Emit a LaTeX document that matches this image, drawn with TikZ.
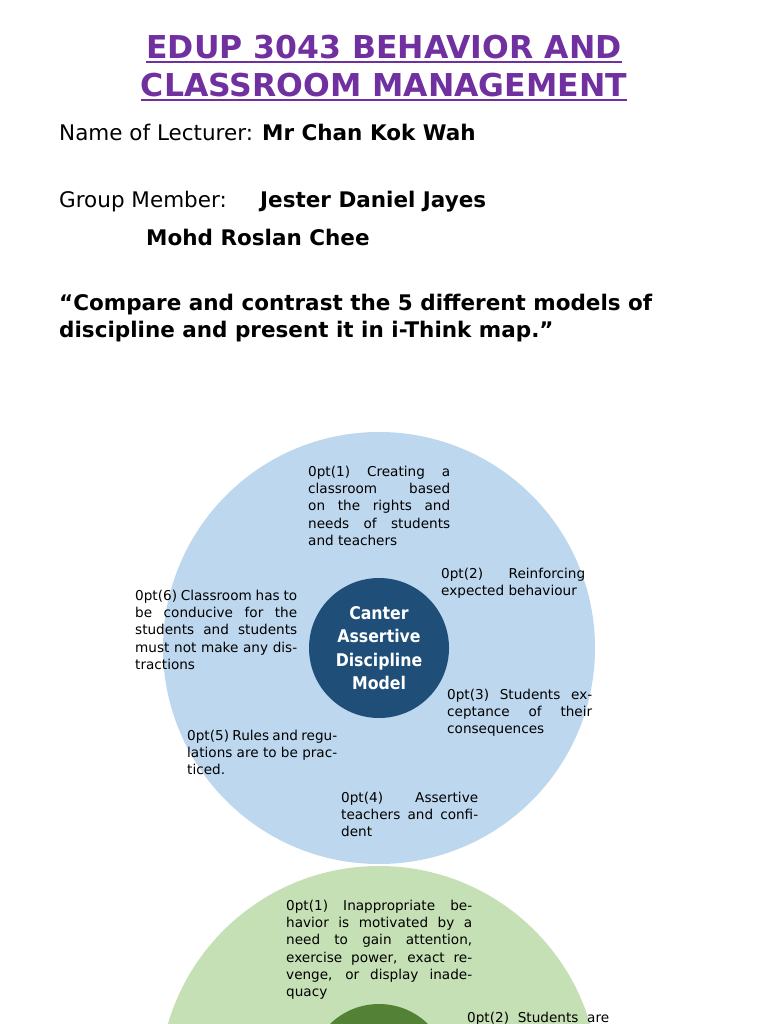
\documentclass[tikz,border=0pt]{standalone}
\usepackage{fontspec}
\setmainfont{DejaVu Sans}
\newfontfamily\condf{DejaVu Sans Condensed}
\definecolor{ttl}{HTML}{7030A0}
\definecolor{lblue}{HTML}{BDD7EE}
\definecolor{dblue}{HTML}{1F4E79}
\definecolor{lgreen}{HTML}{C5E0B4}
\definecolor{dgreen}{HTML}{538135}
\begin{document}
\begin{tikzpicture}[x=1pt,y=-1pt,
  sm/.style={anchor=north west,inner sep=0pt,align=justify,font=\fontsize{13.6}{17.2}\selectfont\hyphenpenalty=10000\exhyphenpenalty=10000},
  body/.style={anchor=west,inner sep=0pt,font=\fontsize{21.5}{27}\selectfont},
  tl/.style={inner sep=0pt,text=ttl,font=\fontsize{31.5}{38}\selectfont\bfseries},
  ul/.style={draw=ttl,line width=2pt}]
\useasboundingbox (0,0) rectangle (768,1024);
\clip (0,0) rectangle (768,1024);
\fill[white] (0,0) rectangle (768,1024);
\node[tl] (t1) at (384,47) {EDUP 3043 BEHAVIOR AND};
\node[tl] (t2) at (384,85) {CLASSROOM MANAGEMENT};
\draw[ul] ([yshift=-3pt]t1.south west) -- ([yshift=-3pt]t1.south east);
\draw[ul] ([yshift=-3pt]t2.south west) -- ([yshift=-3pt]t2.south east);
\node[body] (lect) at (59,132) {Name of Lecturer: \textbf{Mr Chan Kok Wah}};
\node[body] (grp) at (59,202) {Group Member:};
\node[body] (m1) at (260,202) {\textbf{Jester Daniel Jayes}};
\node[body] (m2) at (146,237) {\textbf{Mohd Roslan Chee}};
\node[body,anchor=north west,align=left] (q) at (59,294) {\textbf{“Compare and contrast the 5 different models of}\\\textbf{discipline and present it in i-Think map.”}};
\node[circle,fill=lblue,minimum size=432pt,inner sep=0pt] (bc) at (379,648) {};
\node[circle,fill=lgreen,minimum size=440pt,inner sep=0pt] (gc) at (379,1086) {};
\node[circle,fill=dblue,minimum size=140pt,inner sep=0pt,text=white,align=center,
  font=\condf\bfseries\fontsize{17.5}{23.5}\selectfont] (bin) at (379,648) {Canter\\Assertive\\Discipline\\Model};
\node[circle,fill=dgreen,minimum size=140pt,inner sep=0pt] (gin) at (379,1074) {};
\node[sm,text width=142pt] (b1) at (308,466) {(1) Creating a classroom based on the rights and needs of students and teachers};
\node[sm,text width=144pt] (b2) at (441,568) {(2) Reinforcing expected behaviour};
\node[sm,text width=162pt] (b6) at (135,590) {(6) Classroom has to be conducive for the students and students must not make any distractions};
\node[sm,text width=145pt] (b3) at (447,689) {(3) Students exceptance of their consequences};
\node[sm,text width=150pt] (b5) at (187,730) {(5) Rules and regulations are to be practiced.};
\node[sm,text width=137pt] (b4) at (341,792) {(4) Assertive teachers and confident};
\node[sm,text width=186pt] (g1) at (286,900) {(1) Inappropriate behavior is motivated by a need to gain attention, exercise power, exact revenge, or display inadequacy};
\node[sm,text width=142pt] (g2) at (467,1012) {(2) Students are motivated};
\end{tikzpicture}
\end{document}
